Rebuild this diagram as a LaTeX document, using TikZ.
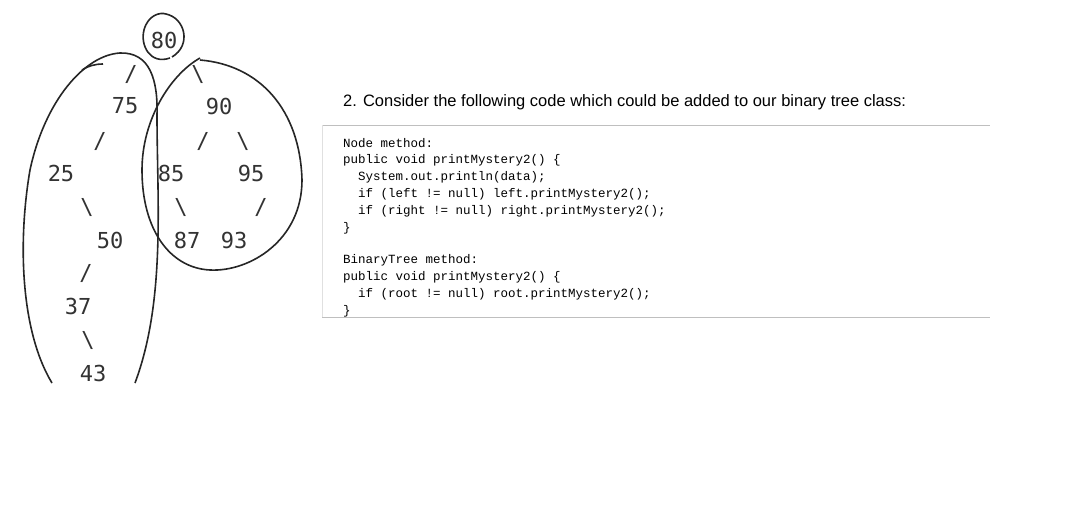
\documentclass[tikz,border=0pt]{standalone}
\usepackage{fontspec}
\setmainfont{Liberation Sans}
\newfontfamily\treefont{DejaVu Sans Mono}
\newfontfamily\codefont{Liberation Mono}
\begin{document}
\begin{tikzpicture}[x=1pt,y=-1pt,
  tn/.style={font=\treefont\fontsize{22}{22}\selectfont, text=black!80, inner sep=0pt},
  ed/.style={font=\treefont\fontsize{22}{22}\selectfont, text=black!80, inner sep=0pt},
  loop/.style={draw=black!85, line width=1.6pt},
  cl/.style={font=\codefont\fontsize{12.5}{12.5}\selectfont, anchor=west, inner sep=0pt}]
\useasboundingbox[fill=white] (0,0) rectangle (1075,517);
% tree nodes
\node[tn] (n80) at (164,40) {80};
\node[tn] (n75) at (125,106) {75};
\node[tn] (n90) at (219,106) {90};
\node[tn] (n25) at (61,173) {25};
\node[tn] (n85) at (171,173) {85};
\node[tn] (n95) at (251,173) {95};
\node[tn] (n50) at (110,240) {50};
\node[tn] (n87) at (187,240) {87};
\node[tn] (n93) at (234,240) {93};
\node[tn] (n37) at (78,306) {37};
\node[tn] (n43) at (93,373) {43};
% slash connectors
\node[ed] (e1) at (131,74) {/};
\node[ed] (e2) at (198,74) {\textbackslash};
\node[ed] (e3) at (100,141) {/};
\node[ed] (e4) at (203,141) {/};
\node[ed] (e5) at (243,141) {\textbackslash};
\node[ed] (e6) at (87,207) {\textbackslash};
\node[ed] (e7) at (181,207) {\textbackslash};
\node[ed] (e8) at (261,207) {/};
\node[ed] (e9) at (86,273) {/};
\node[ed] (e10) at (88,340) {\textbackslash};
% loops
\draw[loop] (170,58) .. controls (150,65) and (140,45) .. (144,30)
  .. controls (148,15) and (160,12) .. (166,14)
  .. controls (185,18) and (192,45) .. (172,57);
\draw[loop] (52,383) .. controls (20,330) and (18,240) .. (30,170)
  .. controls (45,100) and (85,55) .. (120,53)
  .. controls (150,52) and (158,80) .. (157,115)
  .. controls (157,200) and (166,300) .. (135,383);
\draw[loop] (82,70) .. controls (88,66) and (95,64) .. (103,64);
\draw[loop] (200,60) .. controls (260,65) and (300,110) .. (302,180)
  .. controls (302,240) and (250,272) .. (210,270)
  .. controls (170,268) and (142,230) .. (142,170)
  .. controls (142,120) and (170,75) .. (200,58);
% title
\node[anchor=west, inner sep=0pt, font=\fontsize{16.5}{16.5}\selectfont] (title) at (343,102) {2. Consider the following code which could be added to our binary tree class:};
% box
\draw[black!25, line width=1pt] (322,125) -- (990,125);
\draw[black!12, line width=1pt] (322,125) -- (322,317);
\node[cl] (c1) at (343,143) {Node method:};
\node[cl] (c2) at (343,160) {public void printMystery2() \{};
\node[cl] (c3) at (343,177) {\ \ System.out.println(data);};
\node[cl] (c4) at (343,194) {\ \ if (left != null) left.printMystery2();};
\node[cl] (c5) at (343,211) {\ \ if (right != null) right.printMystery2();};
\node[cl] (c6) at (343,228) {\}};
\node[cl] (c7) at (343,260) {BinaryTree method:};
\node[cl] (c8) at (343,277) {public void printMystery2() \{};
\node[cl] (c9) at (343,294) {\ \ if (root != null) root.printMystery2();};
\node[cl] (c10) at (343,311) {\}};
\fill[white] (323,318) rectangle (995,330);
\draw[black!25, line width=1pt] (322,317) -- (990,317);
\end{tikzpicture}
\end{document}
